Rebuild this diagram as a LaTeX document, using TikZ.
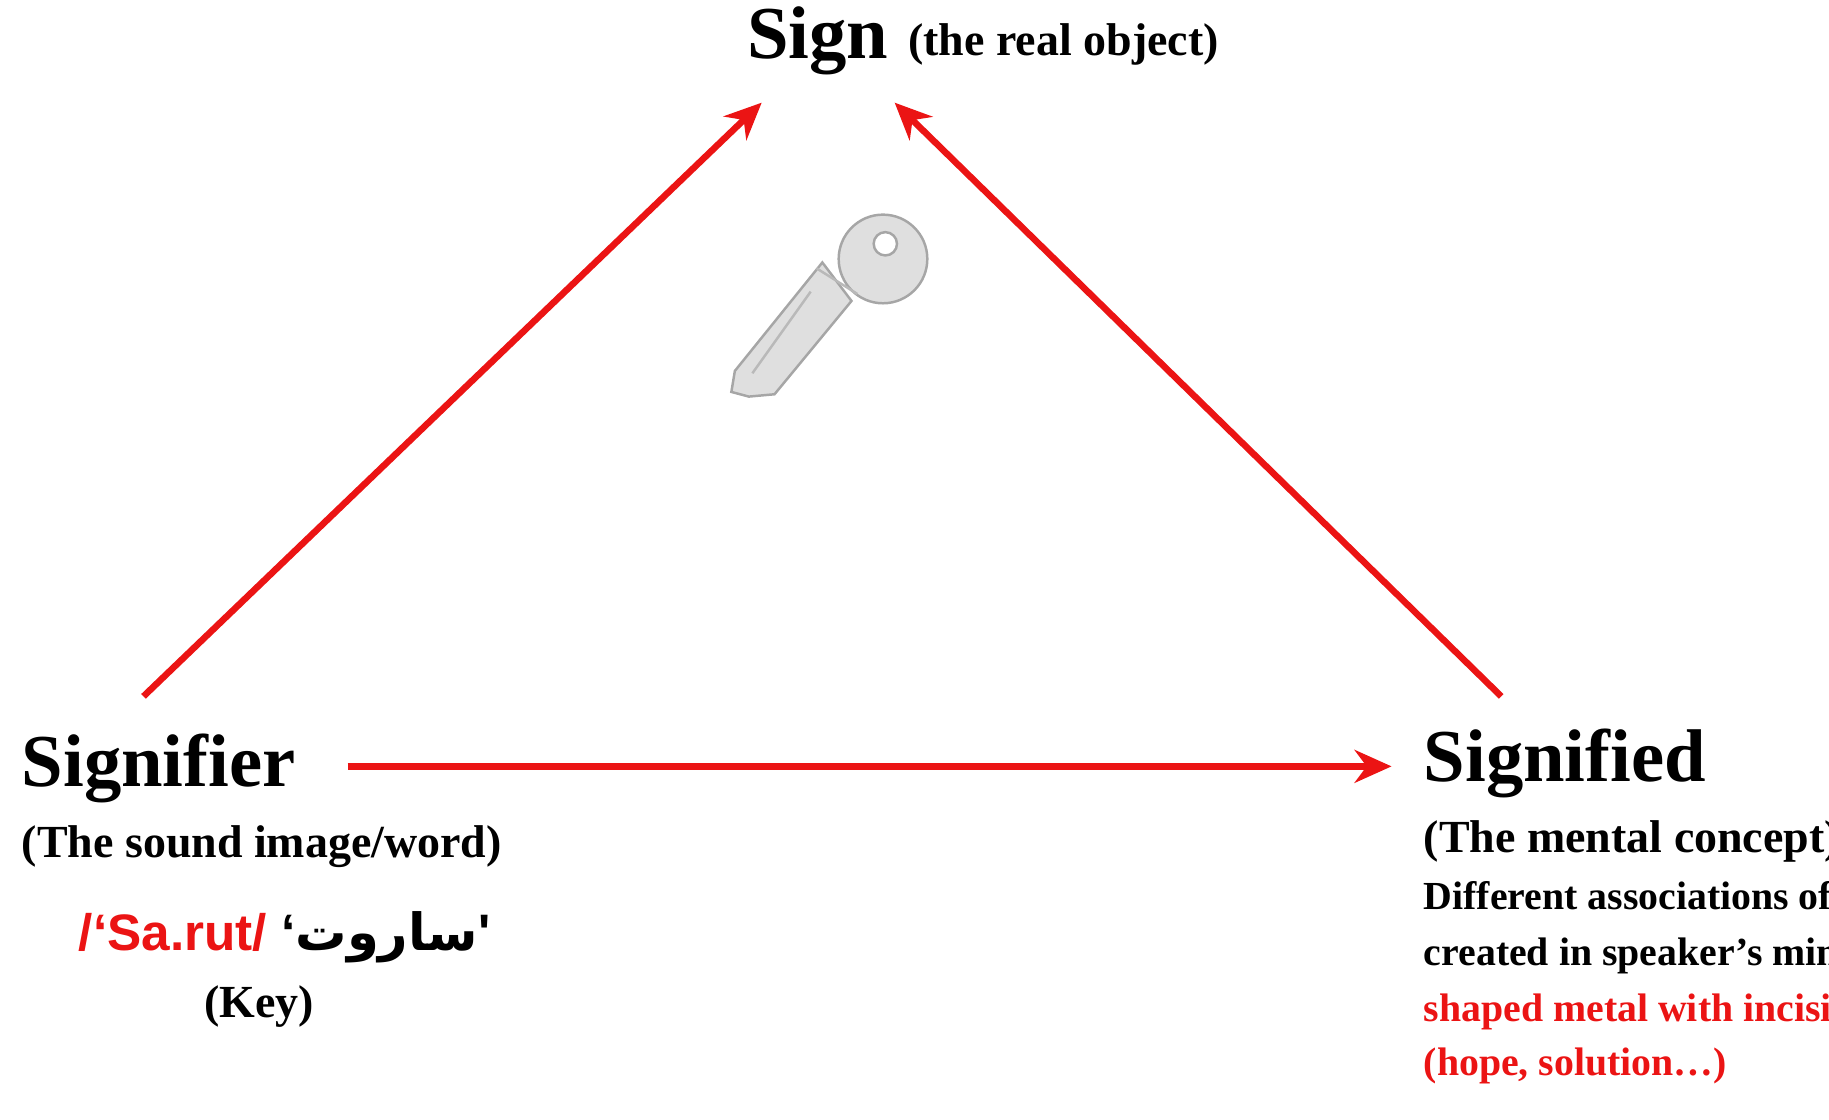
\documentclass[tikz,border=0pt]{standalone}
\usepackage{fontspec}
\setmainfont{Liberation Serif}
\newfontfamily\arabicfont[Script=Arabic]{DejaVu Sans}
\newfontfamily\latinsans{Liberation Sans}
\TeXXeTstate=1
\usetikzlibrary{arrows.meta}
\definecolor{sigred}{RGB}{235,20,20}
\tikzset{
  title/.style = {anchor=base west, inner sep=0pt, font=\bfseries\fontsize{18.2}{21}\selectfont},
  sub/.style = {anchor=base west, inner sep=0pt, font=\bfseries\fontsize{11.2}{13}\selectfont},
  small/.style = {anchor=base west, inner sep=0pt, font=\bfseries\fontsize{9.7}{11}\selectfont},
  link/.style = {draw=sigred, line width=1.6pt, -{Stealth[length=9pt,width=8pt]}}}
\begin{document}
\begin{tikzpicture}[x=0.01cm,y=-0.01cm]
  \useasboundingbox (0,0) rectangle (1568,960);
  \clip (0,0) rectangle (1568,960);
  % titles
  \node[title] (sign) at (640,50) {Sign};
  \node[sub] (real) at (778,48) {(the real object)};
  \node[title] (signifier) at (18,674) {Signifier};
  \node[sub] (sound) at (18,735) {(The sound image/word)};
  \node[anchor=base west, inner sep=0pt, text=sigred, font=\latinsans\bfseries\fontsize{12.5}{14}\selectfont] (word) at (67,815)
    {/\textquoteleft Sa.rut/ {\color{black}\textquoteleft{\arabicfont\bfseries\beginR ساروت\endR}'}};
  \node[sub, anchor=base] (key) at (222,872) {(Key)};
  \node[title] (signified) at (1220,670) {Signified};
  \node[sub] (mental) at (1220,731) {(The mental concept)};
  \node[small] (assoc1) at (1220,780) {Different associations of};
  \node[small] (assoc2) at (1220,828) {created in speaker's mind};
  \node[small, text=sigred] (assoc3) at (1220,876) {shaped metal with incisions};
  \node[small, text=sigred] (assoc4) at (1220,922) {(hope, solution\ldots)};
  % arrows
  \coordinate (lfoot) at (123,597);
  \coordinate (ltip) at (653,88);
  \coordinate (rfoot) at (1287,597);
  \coordinate (rtip) at (767,88);
  \coordinate (bstart) at (298,657);
  \coordinate (bend) at (1193,657);
  \draw[link] (lfoot) -- (ltip);
  \draw[link] (rfoot) -- (rtip);
  \draw[link] (bstart) -- (bend);
  % key
  \begin{scope}[draw=gray!70, fill=gray!25, line width=0.6pt]
    \filldraw (705,225) -- (730,258) -- (664,338) -- (642,340) -- (627,336) -- (630,318) -- cycle;
    \draw[gray!55] (695,250) -- (645,320);
    \filldraw (757,222) circle (38);
    \draw[gray!55] (700,230) -- (735,252);
    \fill[white] (759,209) circle (10);
    \draw (759,209) circle (10);
  \end{scope}
\end{tikzpicture}
\end{document}
